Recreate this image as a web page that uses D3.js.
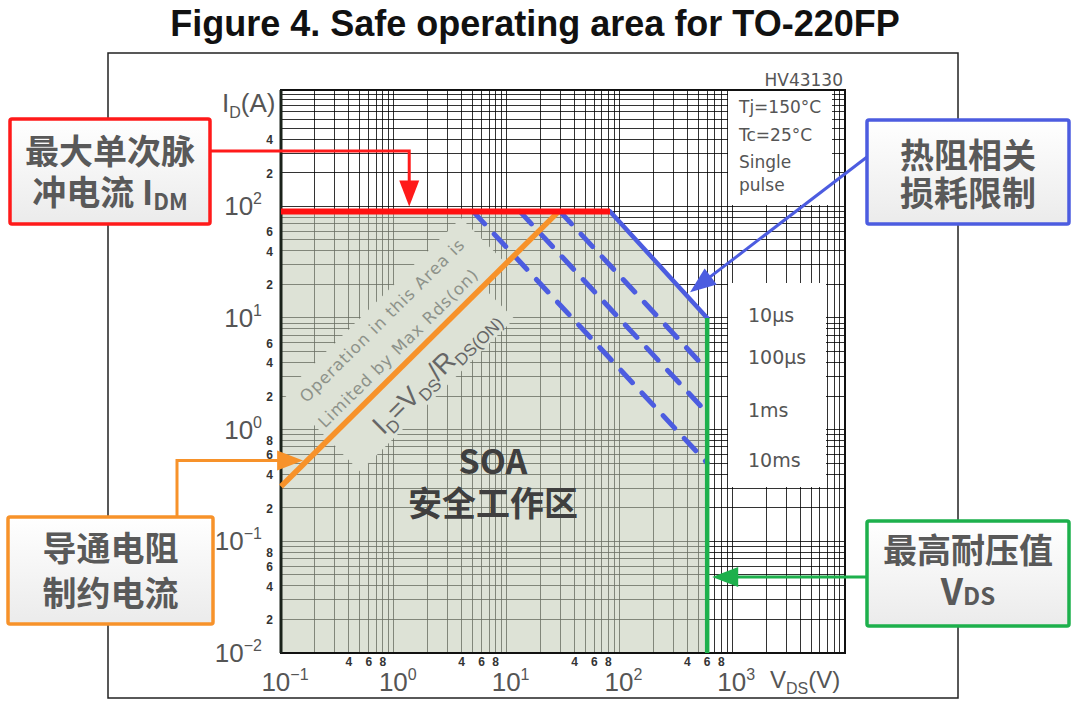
<!DOCTYPE html>
<html lang="zh">
<head>
    <meta charset="UTF-8">
    <title>Safe operating area</title>
    <script src="https://cdnjs.cloudflare.com/ajax/libs/d3/7.8.5/d3.min.js"></script>
    <style>
        body { margin: 0; background: #fff; }
        svg { display: block; }
        .grid line { stroke: #000; stroke-width: 1; stroke-opacity: 0.8; shape-rendering: crispEdges; }
        .major { font: 26px "Liberation Sans", sans-serif; fill: #555; }
        .minor { font: bold 12px "Liberation Sans", sans-serif; fill: #333; }
        .note { font: 17px "DejaVu Sans", sans-serif; fill: #555; }
        .pulse { font: 19px "DejaVu Sans", sans-serif; fill: #555; }
        .cjk { font-family: "Noto Sans CJK SC", sans-serif; font-weight: bold; fill: #595959; }
        .band { font: 16.5px "DejaVu Sans", sans-serif; fill: #8d928a; letter-spacing: 1px; }
    </style>
</head>
<body>
<svg id="chart" width="1076" height="707"></svg>
<script>
    // axis ticks
    const xMajor = [0.1, 1, 10, 100, 1000];
    const xMajorExp = ['\u22121', '0', '1', '2', '3'];
    const yMajor = [0.01, 0.1, 1, 10, 100];
    const yMajorExp = ['\u22122', '\u22121', '0', '1', '2'];
    const xMinorLabels = [0.4, 0.6, 0.8, 4, 6, 8, 40, 60, 80, 400, 600, 800];
    const yMinorLabels = [0.02, 0.04, 0.06, 0.08, 0.2, 0.4, 0.6, 0.8, 2, 4, 6, 20, 40, 60, 200, 400];

    // limits
    const idmLimit = 90;          // A, max pulsed drain current
    const vdsMax = 600;           // V, breakdown voltage
    const rdsV = [0.1, 29];       // Rds(on) limit line
    const rdsI = [0.31, 90];
    const pulseLabels = ['10\u03bcs', '100\u03bcs', '1ms', '10ms'];
    const pulseStartV = [82.6, 29.7, 13.1, 5.04];   // where each line leaves the Idm limit
    const pulseEndI = [10, 3.42, 1.41, 0.503];      // current at vdsMax

    const conditions = ['Tj=150\u00b0C', 'Tc=25\u00b0C', 'Single', 'pulse'];

    const svg = d3.select('#chart');
    const pL = 281, pR = 845, pT = 90, pB = 653;

    const x = d3.scaleLog().domain([0.1, 1e4]).range([pL, pR]);
    const y = d3.scaleLog().domain([0.01, 1100]).range([pB, pT]);
    const pt = (v, i) => [x(v), y(i)];

    const defs = svg.append('defs');
    const grad = defs.append('linearGradient').attr('id', 'boxFill')
        .attr('x1', 0).attr('y1', 0).attr('x2', 0).attr('y2', 1);
    grad.append('stop').attr('offset', '0%').attr('stop-color', '#ffffff');
    grad.append('stop').attr('offset', '100%').attr('stop-color', '#ebebeb');

    // title + outer frame
    svg.append('text')
        .attr('x', 535).attr('y', 36)
        .attr('text-anchor', 'middle')
        .style('font', 'bold 36px "Liberation Sans", sans-serif')
        .style('fill', '#111')
        .text('Figure 4. Safe operating area for TO-220FP');

    svg.append('rect')
        .attr('x', 108).attr('y', 53).attr('width', 850).attr('height', 645)
        .attr('fill', 'none').attr('stroke', '#222').attr('stroke-width', 1.5);

    // log grid
    const grid = svg.append('g').attr('class', 'grid');
    grid.selectAll('.vx').data(x.ticks()).enter().append('line')
        .attr('x1', d => x(d)).attr('x2', d => x(d))
        .attr('y1', pT).attr('y2', pB);
    grid.selectAll('.hy').data(y.ticks()).enter().append('line')
        .attr('x1', pL).attr('x2', pR)
        .attr('y1', d => y(d)).attr('y2', d => y(d));

    // white label panels inside the plot
    svg.append('rect').attr('x', 728).attr('y', 91).attr('width', 104).attr('height', 114).attr('fill', '#fff');
    svg.append('rect').attr('x', 728).attr('y', 283).attr('width', 98).attr('height', 204).attr('fill', '#fff');

    // SOA shading
    const shade = [pt(0.1, 0.01), pt(0.1, idmLimit), pt(pulseStartV[0], idmLimit),
        pt(vdsMax, pulseEndI[0]), pt(vdsMax, 0.01)];
    svg.append('path')
        .attr('d', 'M' + shade.join('L') + 'Z')
        .attr('fill', '#c1cab4').attr('fill-opacity', 0.55);

    // rotated note band along the Rds(on) line
    const p0 = pt(rdsV[0], rdsI[0]), p1 = pt(rdsV[1], rdsI[1]);
    const ang = Math.atan2(p1[1] - p0[1], p1[0] - p0[0]) * 180 / Math.PI;
    const t = (x(1) - p0[0]) / (p1[0] - p0[0]);
    const anchor = [x(1), p0[1] + t * (p1[1] - p0[1])];
    const band = svg.append('g')
        .attr('transform', `translate(${anchor[0]},${anchor[1]}) rotate(${ang})`);
    band.append('rect').attr('x', -92).attr('y', -64).attr('width', 250).attr('height', 65).attr('fill', '#dde2d6');
    band.append('rect').attr('x', -92).attr('y', 0).attr('width', 217).attr('height', 45).attr('fill', '#dde2d6');
    band.append('text').attr('class', 'band').attr('x', 30).attr('y', -41)
        .attr('text-anchor', 'middle').text('Operation in this Area is');
    band.append('text').attr('class', 'band').attr('x', 22).attr('y', -10)
        .attr('text-anchor', 'middle').text('Limited by Max Rds(on)');
    const f = band.append('text').attr('x', 32).attr('y', 36).attr('text-anchor', 'middle')
        .style('font-family', '"Liberation Sans", sans-serif').style('fill', '#666');
    [['I', 27, 0], ['D', 17, 6], ['=V', 27, -6], ['DS', 17, 6], ['/R', 27, -6], ['DS(ON)', 17, 6]]
        .forEach(([s, fs, dy]) => f.append('tspan').attr('font-size', fs).attr('dy', dy).text(s));

    // plot border
    svg.append('rect').attr('x', pL).attr('y', pT)
        .attr('width', pR - pL).attr('height', pB - pT)
        .attr('fill', 'none').attr('stroke', '#111').attr('stroke-width', 2);
    svg.append('line').attr('x1', pL).attr('x2', pL).attr('y1', pT).attr('y2', pB)
        .attr('stroke', '#1a221a').attr('stroke-width', 3);

    // limit lines
    const line = d3.line();
    pulseStartV.forEach((v, i) => {
        svg.append('path')
            .attr('d', line([pt(v, idmLimit), pt(vdsMax, pulseEndI[i])]))
            .attr('fill', 'none').attr('stroke', '#4c5ce0')
            .attr('stroke-width', i === 0 ? 4.5 : 5)
            .attr('stroke-linecap', 'round')
            .attr('stroke-dasharray', i === 0 ? null : '17,14');
    });
    svg.append('path').attr('d', line(rdsV.map((v, i) => pt(v, rdsI[i]))))
        .attr('fill', 'none').attr('stroke', '#f7922a').attr('stroke-width', 5.5);
    svg.append('path').attr('d', line([pt(vdsMax, pulseEndI[0]), pt(vdsMax, 0.01)]))
        .attr('fill', 'none').attr('stroke', '#1db04c').attr('stroke-width', 4.5);
    svg.append('path').attr('d', line([pt(0.1, idmLimit), pt(pulseStartV[0], idmLimit)]))
        .attr('fill', 'none').attr('stroke', '#ff1010').attr('stroke-width', 6);

    // axis labels
    yMajor.forEach((v, i) => {
        const tx = svg.append('text').attr('class', 'major')
            .attr('x', 262).attr('y', y(v) + 9).attr('text-anchor', 'end');
        tx.append('tspan').text('10');
        tx.append('tspan').attr('font-size', 16).attr('dy', -11).text(yMajorExp[i]);
    });
    xMajor.forEach((v, i) => {
        const tx = svg.append('text').attr('class', 'major')
            .attr('x', x(v) + 4).attr('y', 691).attr('text-anchor', 'middle');
        tx.append('tspan').text('10');
        tx.append('tspan').attr('font-size', 16).attr('dy', -11).text(xMajorExp[i]);
    });
    svg.selectAll('.xmin').data(xMinorLabels).enter().append('text')
        .attr('class', 'minor').attr('text-anchor', 'middle')
        .attr('x', d => x(d)).attr('y', 666)
        .text(d => String(d).replace(/[0.]/g, ''));
    svg.selectAll('.ymin').data(yMinorLabels).enter().append('text')
        .attr('class', 'minor').attr('text-anchor', 'end')
        .attr('x', 273).attr('y', d => y(d) + 5)
        .text(d => String(d).replace(/[0.]/g, ''));

    const yl = svg.append('text').attr('class', 'major').attr('x', 222).attr('y', 112);
    yl.append('tspan').text('I');
    yl.append('tspan').attr('font-size', 16).attr('dy', 6).text('D');
    yl.append('tspan').attr('dy', -6).text('(A)');
    const xl = svg.append('text').attr('class', 'major').attr('x', 770).attr('y', 688);
    xl.append('tspan').attr('font-size', 24).text('V');
    xl.append('tspan').attr('font-size', 16).attr('dy', 6).text('DS');
    xl.append('tspan').attr('font-size', 24).attr('dy', -6).text('(V)');

    // notes inside plot
    svg.append('text').attr('class', 'note').attr('x', 843).attr('y', 86)
        .attr('text-anchor', 'end').attr('font-size', 18).text('HV43130');
    const condY = [113, 141, 168, 191];
    conditions.forEach((s, i) => {
        svg.append('text').attr('class', 'note').attr('x', 739).attr('y', condY[i]).text(s);
    });
    pulseLabels.forEach((s, i) => {
        svg.append('text').attr('class', 'pulse').attr('x', 748)
            .attr('y', y(pulseEndI[i]) + (i === 1 ? -6 : 4)).text(s);
    });

    svg.append('text').attr('class', 'cjk').attr('x', 493).attr('y', 474)
        .attr('text-anchor', 'middle').attr('font-size', 34).style('fill', '#3f3f3f').text('SOA');
    svg.append('text').attr('class', 'cjk').attr('x', 493).attr('y', 516)
        .attr('text-anchor', 'middle').attr('font-size', 34).style('fill', '#3f3f3f').text('安全工作区');

    // callout boxes with arrows
    function connector(points, color) {
        const n = points.length;
        const a = points[n - 2], b = points[n - 1];
        const dx = b[0] - a[0], dy = b[1] - a[1];
        const len = Math.hypot(dx, dy), ux = dx / len, uy = dy / len;
        const L = 26, W = 10;
        const base = [b[0] - ux * L, b[1] - uy * L];
        const pts = points.slice(0, n - 1).concat([[b[0] - ux * (L - 2), b[1] - uy * (L - 2)]]);
        svg.append('path').attr('d', line(pts))
            .attr('fill', 'none').attr('stroke', color).attr('stroke-width', 3);
        svg.append('path')
            .attr('d', 'M' + [b, [base[0] - uy * W, base[1] + ux * W], [base[0] + uy * W, base[1] - ux * W]].join('L') + 'Z')
            .attr('fill', color);
    }
    function callout(bx, by, bw, bh, color, lines) {
        svg.append('rect').attr('x', bx).attr('y', by).attr('width', bw).attr('height', bh)
            .attr('rx', 2).attr('fill', 'url(#boxFill)').attr('stroke', color).attr('stroke-width', 3.5);
        lines.forEach(([parts, yy]) => {
            const tx = svg.append('text').attr('class', 'cjk').attr('x', bx + bw / 2).attr('y', yy)
                .attr('text-anchor', 'middle').attr('font-size', 34);
            parts.forEach(([s, fs, dy]) => tx.append('tspan').attr('font-size', fs).attr('dy', dy).text(s));
        });
    }

    const redTip = [x(1.37), y(idmLimit) - 5];
    connector([[210, 151], [redTip[0], 151], redTip], '#ff1a1a');
    callout(10, 119, 200, 105, '#ff1a1a', [
        [[['最大单次脉', 34, 0]], 164],
        [[['冲电流 I', 34, 0], ['DM', 22, 5]], 205]
    ]);

    const orangeTip = pt(0.157, 0.53);
    connector([[177, 517], [177, orangeTip[1]], orangeTip], '#f7922a');
    callout(8, 517, 205, 107, '#f7922a', [
        [[['导通电阻', 34, 0]], 561],
        [[['制约电流', 34, 0]], 606]
    ]);

    const blueTip = pt(423, 17);
    connector([[867, 157], blueTip], '#4c5ce0');
    callout(867, 120, 202, 104, '#4c5ce0', [
        [[['热阻相关', 34, 0]], 168],
        [[['损耗限制', 34, 0]], 206]
    ]);

    const greenTip = [x(vdsMax) + 5, y(0.048)];
    connector([[867, greenTip[1]], greenTip], '#1db04c');
    callout(867, 521, 202, 105, '#1db04c', [
        [[['最高耐压值', 34, 0]], 563],
        [[['V', 36, 0], ['DS', 24, 0]], 605]
    ]);
</script>
</body>
</html>
